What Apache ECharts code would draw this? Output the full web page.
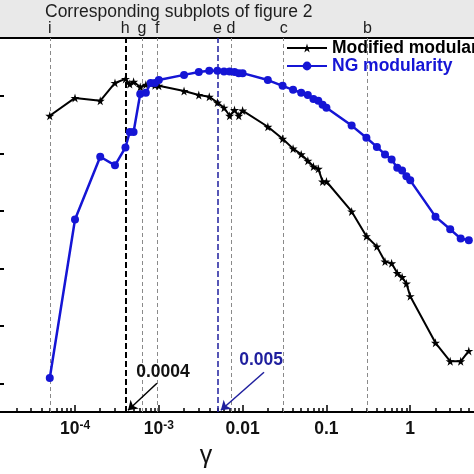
<!DOCTYPE html>
<html lang="en">
<head>
    <meta charset="UTF-8">
    <title>Modularity vs gamma</title>
    <script src="https://cdn.jsdelivr.net/npm/echarts@6.0.0/dist/echarts.min.js"></script>
    <style>
        html, body { margin: 0; padding: 0; background: #fff; }
        #main { width: 474px; height: 474px; }
    </style>
</head>
<body>
<div id="main"></div>
<script type="text/javascript">
    // resolution parameter gamma (shared by both curves)
    var gamma = [5e-5, 1e-4, 2e-4, 3e-4, 4e-4, 4.5e-4, 5e-4, 6e-4, 7e-4, 8e-4, 9e-4,
        1e-3, 2e-3, 3e-3, 4e-3, 5e-3, 6e-3, 7e-3, 8e-3, 9e-3,
        0.01, 0.02, 0.03, 0.04, 0.05, 0.06, 0.07, 0.08, 0.09,
        0.1, 0.2, 0.3, 0.4, 0.5, 0.6, 0.7, 0.8, 0.9,
        1, 2, 3, 4, 5];
    var modifiedQ = [0.665, 0.696, 0.691, 0.722, 0.729, 0.720, 0.724, 0.715, 0.719, 0.721, 0.718,
        0.717, 0.708, 0.701, 0.698, 0.688, 0.679, 0.665, 0.675, 0.665,
        0.674, 0.646, 0.625, 0.608, 0.598, 0.587, 0.577, 0.573, 0.551,
        0.551, 0.499, 0.456, 0.438, 0.412, 0.409, 0.392, 0.385, 0.374,
        0.352, 0.271, 0.239, 0.239, 0.257];
    var ngQ = [0.210, 0.485, 0.594, 0.579, 0.610, 0.637, 0.637, 0.703, 0.705, 0.722, 0.722,
        0.727, 0.736, 0.741, 0.743, 0.743, 0.742, 0.742, 0.741, 0.739,
        0.739, 0.727, 0.717, 0.710, 0.705, 0.701, 0.694, 0.691, 0.684,
        0.679, 0.648, 0.627, 0.611, 0.598, 0.589, 0.575, 0.570, 0.560,
        0.553, 0.490, 0.468, 0.452, 0.449];
    // subplot markers of figure 2
    var subplotLetters = ['i', 'h', 'g', 'f', 'e', 'd', 'c', 'b'];
    var subplotGamma = [5e-5, 4e-4, 6.3e-4, 9.5e-4, 5e-3, 7.2e-3, 0.031, 0.31];
    // tick labels (decades)
    var majorExp = [-4, -3, -2, -1, 0];
    var yTicks = [0.2, 0.3, 0.4, 0.5, 0.6, 0.7];

    var FONT = 'Liberation Sans, Arial, sans-serif';
    var BLUE = '#1515d5';
    var DARKBLUE = '#1f1f9e';
    var STAR = 'path://M50,0 L61,35 L98,35 L68,57 L79,91 L50,70 L21,91 L32,57 L2,35 L39,35 Z';

    var XMIN = -4.895, XMAX = 0.761;
    var YMIN = 0.151, YMAX = 0.8;

    var minorTicks = [];
    for (var e = -5; e <= 0; e++) {
        for (var k = 2; k <= 9; k++) {
            var v = Math.log10(k * Math.pow(10, e));
            if (v > XMIN && v < XMAX) minorTicks.push(v);
        }
    }

    function lg(g) { return Math.log10(g); }

    var vlines = subplotLetters.map(function (l, i) {
        var style = { color: '#8a8a8a', width: 1, type: [4, 3] };
        if (l === 'h') style = { color: '#000', width: 2, type: [6, 3] };
        if (l === 'e') style = { color: DARKBLUE, width: 1.5, type: [6, 3] };
        return { xAxis: lg(subplotGamma[i]), lineStyle: style, label: { formatter: l } };
    });

    var myChart = echarts.init(document.getElementById('main'));
    var option = {
        animation: false,
        backgroundColor: '#fff',
        grid: { left: 0, right: 0, top: 38, bottom: 61 },
        graphic: [
            { type: 'rect', left: 0, top: 0, z: -1, shape: { width: 474, height: 37 }, style: { fill: '#e9e9e9' } },
            { type: 'text', left: 45, top: 3, style: { text: 'Corresponding subplots of figure 2', font: '17.5px ' + FONT, fill: '#1e1e1e' } }
        ],
        legend: {
            left: 281, top: 34, orient: 'vertical', itemWidth: 40, itemHeight: 11, itemGap: 0,
            textStyle: { fontSize: 17.5, fontWeight: 'bold', fontFamily: FONT },
            data: [
                { name: 'Modified modularity', textStyle: { color: '#000' } },
                { name: 'NG modularity', textStyle: { color: BLUE } }
            ]
        },
        xAxis: [
            {
                type: 'value', min: XMIN, max: XMAX, position: 'bottom',
                axisLine: { onZero: false, lineStyle: { color: '#000', width: 2 } },
                axisTick: { inside: true, length: 7, customValues: majorExp, lineStyle: { color: '#000', width: 1.5 } },
                axisLabel: {
                    customValues: majorExp, margin: 8,
                    formatter: function (v) {
                        var ex = Math.round(v);
                        if (ex <= -3) return '{b|10}{s|' + ex + '}';
                        return '{b|' + Math.pow(10, ex) + '}';
                    },
                    rich: {
                        b: { fontSize: 17.5, fontWeight: 'bold', color: '#111', fontFamily: FONT },
                        s: { fontSize: 12, fontWeight: 'bold', color: '#111', fontFamily: FONT, verticalAlign: 'top' }
                    }
                },
                splitLine: { show: false },
                name: 'γ', nameLocation: 'middle', nameGap: 32,
                nameTextStyle: { fontSize: 25, color: '#111', fontFamily: FONT, padding: [0, 62, 0, 0] }
            },
            {
                type: 'value', min: XMIN, max: XMAX, position: 'bottom',
                axisLine: { show: false, onZero: false },
                axisTick: { inside: true, length: 4, customValues: minorTicks, lineStyle: { color: '#000', width: 1.5 } },
                axisLabel: { show: false },
                splitLine: { show: false }
            },
            {
                type: 'value', min: XMIN, max: XMAX, position: 'top',
                axisLine: { onZero: false, lineStyle: { color: '#000', width: 2 } },
                axisTick: { show: false }, axisLabel: { show: false }, splitLine: { show: false }
            }
        ],
        yAxis: {
            type: 'value', min: YMIN, max: YMAX, position: 'left',
            axisLine: { show: false, onZero: false },
            axisTick: { show: true, inside: true, length: 4, customValues: yTicks, lineStyle: { color: '#000', width: 2 } },
            axisLabel: { show: false },
            splitLine: { show: false }
        },
        series: [
            {
                name: 'Modified modularity', type: 'line', z: 3,
                data: gamma.map(function (g, i) { return [lg(g), modifiedQ[i]]; }),
                symbol: STAR, symbolSize: 9,
                lineStyle: { color: '#000', width: 2 },
                itemStyle: { color: '#000' },
                markLine: {
                    silent: true, symbol: ['none', 'none'], z: 1,
                    label: { position: 'end', distance: 1, color: '#1e1e1e', fontSize: 16, fontFamily: FONT },
                    data: vlines
                },
                markPoint: {
                    silent: true, symbol: 'circle', symbolSize: 1,
                    itemStyle: { color: 'rgba(0,0,0,0)' },
                    label: { show: true, position: 'inside', formatter: '{b}', fontSize: 17.5, fontWeight: 'bold', fontFamily: FONT, color: '#111' },
                    data: [{ name: '0.0004', coord: [lg(0.00112), 0.2204] }]
                }
            },
            {
                name: 'NG modularity', type: 'line', z: 4,
                data: gamma.map(function (g, i) { return [lg(g), ngQ[i]]; }),
                symbol: 'circle', symbolSize: 8,
                lineStyle: { color: BLUE, width: 2.5 },
                itemStyle: { color: BLUE },
                markLine: {
                    silent: true, z: 5,
                    label: { show: false },
                    data: [
                        [{ coord: [lg(0.00095), 0.201], symbol: 'none', lineStyle: { color: '#000', width: 1.5, type: 'solid' } },
                         { coord: [lg(0.00043), 0.154], symbol: 'arrow', symbolSize: 9 }],
                        [{ coord: [lg(0.018), 0.220], symbol: 'none', lineStyle: { color: DARKBLUE, width: 1.5, type: 'solid' } },
                         { coord: [lg(0.0055), 0.154], symbol: 'arrow', symbolSize: 9 }]
                    ]
                },
                markPoint: {
                    silent: true, symbol: 'circle', symbolSize: 1,
                    itemStyle: { color: 'rgba(0,0,0,0)' },
                    label: { show: true, position: 'inside', formatter: '{b}', fontSize: 17.5, fontWeight: 'bold', fontFamily: FONT, color: DARKBLUE },
                    data: [{ name: '0.005', coord: [lg(0.0166), 0.2412] }]
                }
            }
        ]
    };
    myChart.setOption(option);
</script>
</body>
</html>
